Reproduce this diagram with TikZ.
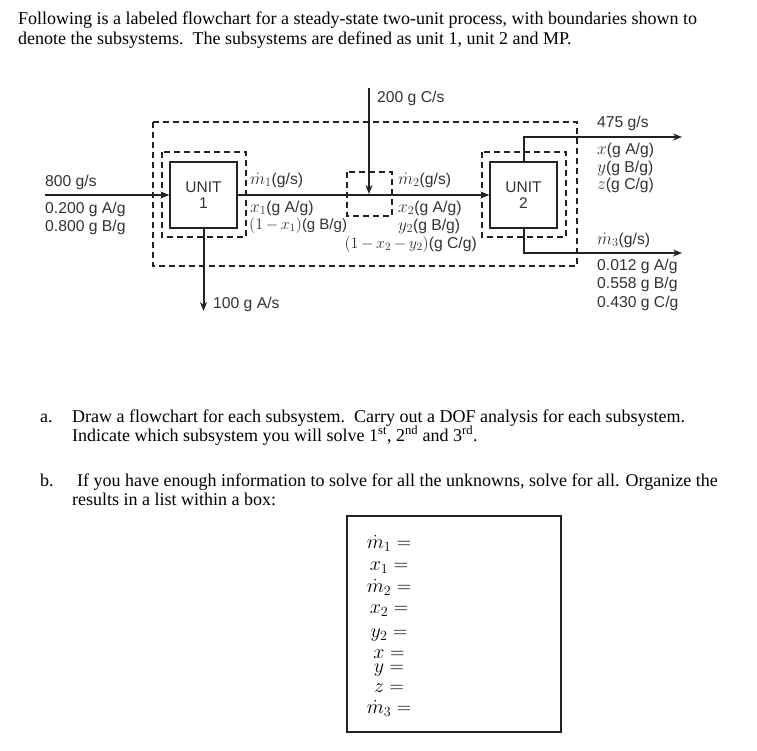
\RequirePackage{fix-cm}
\documentclass[tikz,border=0pt]{standalone}
\usepackage{fontspec}
\setmainfont{Liberation Serif}
\setsansfont{Liberation Sans}
\usetikzlibrary{arrows.meta}
\definecolor{ink}{HTML}{222222}
\definecolor{labc}{HTML}{333333}
\newcommand{\lm}[1]{{\fontsize{17.5}{17}\selectfont$#1$}}
\newcommand{\lms}[1]{{\fontsize{16}{17}\selectfont$#1$}}
\begin{document}
\begin{tikzpicture}[x=1pt,y=-1pt,
  unitbox/.style={draw=ink, line width=1.2pt, minimum width=67pt, minimum height=66pt, inner sep=0pt, align=center, text=labc, font=\sffamily\fontsize{15.5}{16}\selectfont},
  stream/.style={draw=ink, line width=2pt, -{Stealth[length=9pt,width=7pt]}},
  bound/.style={draw=ink, line width=1.1pt, dash pattern=on 6pt off 4pt},
  lab/.style={anchor=base west, inner sep=0pt, text=labc, font=\sffamily\fontsize{15.7}{17}\selectfont},
  labn/.style={anchor=base west, inner sep=0pt, text=labc, font=\sffamily\fontsize{15}{17}\selectfont},
  body/.style={anchor=base west, inner sep=0pt, font=\fontsize{18}{20}\selectfont},
  ans/.style={anchor=base, inner sep=0pt, font=\fontsize{20}{22}\selectfont}]
\useasboundingbox (0,0) rectangle (757,750);
\fill[white] (0,0) rectangle (757,750);

% intro text
\node[body] (t1) at (18,24) {Following is a labeled flowchart for a steady-state two-unit process, with boundaries shown to};
\node[body] (t2) at (18,44) {denote the subsystems.\ \ The subsystems are defined as unit 1, unit 2 and MP.};

% boundaries
\draw[bound] (153,122) rectangle (577,266);
\draw[bound] (162,152) rectangle (246,237);
\draw[bound] (347,172) rectangle (392,216);
\draw[bound] (482,152) rectangle (566,237);

% units
\node[unitbox] (u1) at (203.5,195) {UNIT\\1};
\node[unitbox] (u2) at (523.5,195) {UNIT\\2};

% streams
\coordinate (fin) at (45,195);
\coordinate (cfeed) at (369,88);
\coordinate (mix) at (369,194);
\coordinate (waste) at (203.5,311);
\coordinate (top) at (682,137);
\coordinate (bot) at (682,253);
\draw[stream] (fin) -- (u1.west);
\draw[stream] (u1.east) -- (u2.west);
\draw[stream] (cfeed) -- (mix);
\draw[stream] (u1.south) -- (waste);
\draw[stream] (u2.north) |- (top);
\draw[stream] (u2.south) |- (bot);

% labels
\node[lab] (l800) at (45,186) {800 g/s};
\node[lab] (lA0) at (45,213) {0.200 g A/g};
\node[lab] (lB0) at (45,231) {0.800 g B/g};
\node[lab] (l100) at (213,308) {100 g A/s};
\node[lab] (l200) at (377,102) {200 g C/s};
\node[lab] (lm1) at (250,184) {\lm{\dot m_1}(g/s)};
\node[lab] (lx1) at (250,212) {\lm{x_1}(g A/g)};
\node[labn] (l1x1) at (249,229) {\lms{(1\,{-}\,x_1)}(g B/g)};
\node[lab] (lm2) at (398,184) {\lm{\dot m_2}(g/s)};
\node[lab] (lx2) at (398,212) {\lm{x_2}(g A/g)};
\node[lab] (ly2) at (398,230) {\lm{y_2}(g B/g)};
\node[lab, anchor=base east] (lz2) at (477,248) {\lms{(1\,{-}\,x_2\,{-}\,y_2)}(g C/g)};
\node[lab] (l475) at (597,127) {475 g/s};
\node[lab] (lx) at (597,154) {\lm{x}(g A/g)};
\node[lab] (ly) at (597,172) {\lm{y}(g B/g)};
\node[lab] (lz) at (597,189) {\lm{z}(g C/g)};
\node[lab] (lm3) at (597,244) {\lm{\dot m_3}(g/s)};
\node[lab] (lA3) at (597,270) {0.012 g A/g};
\node[lab] (lB3) at (597,288) {0.558 g B/g};
\node[lab] (lC3) at (597,307) {0.430 g C/g};

% questions
\node[body] (qa) at (40,422) {a.};
\node[body] (qa1) at (72,422) {Draw a flowchart for each subsystem.\ \ Carry out a DOF analysis for each subsystem.};
\node[body] (qa2) at (72,441) {Indicate which subsystem you will solve 1\textsuperscript{st}, 2\textsuperscript{nd} and 3\textsuperscript{rd}.};
\node[body] (qb) at (40,486) {b.};
\node[body] (qb1) at (77,486) {If you have enough information to solve for all the unknowns, solve for all. Organize the};
\node[body] (qb2) at (72,505) {results in a list within a box:};

% answer box
\draw[draw=ink, line width=2.2pt] (347,516) rectangle (561,732);
\node[ans] (a1) at (389,548) {$\dot m_1 =$};
\node[ans] (a2) at (389,570) {$x_1 =$};
\node[ans] (a3) at (389,592) {$\dot m_2 =$};
\node[ans] (a4) at (389,613) {$x_2 =$};
\node[ans] (a5) at (389,637) {$y_2 =$};
\node[ans] (a6) at (389,658) {$x =$};
\node[ans] (a7) at (389,672) {$y =$};
\node[ans] (a8) at (389,692) {$z =$};
\node[ans] (a9) at (389,713) {$\dot m_3 =$};
\end{tikzpicture}
\end{document}
